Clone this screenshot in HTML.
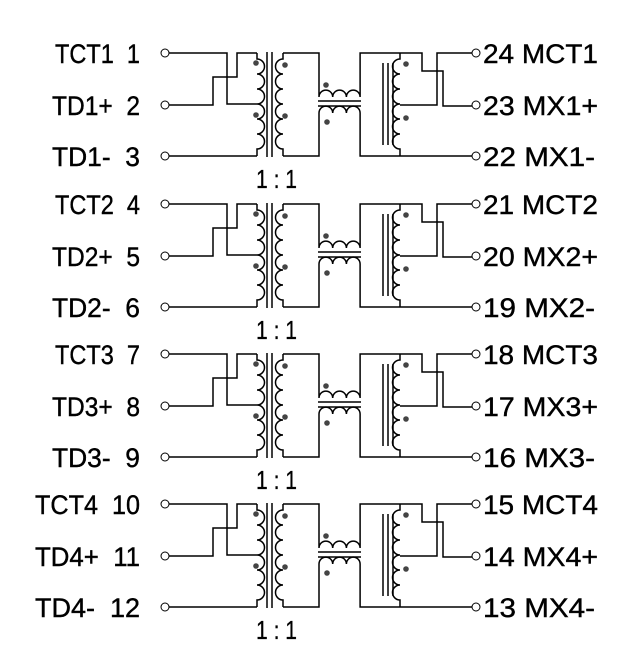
<!DOCTYPE html>
<html><head><meta charset="utf-8"><style>body{margin:0;background:#fff}svg{display:block}</style></head>
<body>
<svg width="641" height="646" viewBox="0 0 641 646" xmlns="http://www.w3.org/2000/svg">
<defs>
<g id="blk" fill="none" stroke="#000" stroke-width="1.5">
  <circle cx="165" cy="53" r="4" stroke-width="1"/>
  <circle cx="165" cy="105" r="4" stroke-width="1"/>
  <circle cx="165" cy="156" r="4" stroke-width="1"/>
  <circle cx="476" cy="53" r="4" stroke-width="1"/>
  <circle cx="476" cy="105" r="4" stroke-width="1"/>
  <circle cx="476" cy="156" r="4" stroke-width="1"/>
  <path d="M169 53H227V104H257"/>
  <path d="M169 105H213V77H237V53H257"/>
  <path d="M169 156H257"/>
  <path d="M257 53V59a7.5 7.5 0 0 1 0 15a7.5 7.5 0 0 1 0 15a7.5 7.5 0 0 1 0 15a7.5 7.5 0 0 1 0 15a7.5 7.5 0 0 1 0 15a7.5 7.5 0 0 1 0 15V156"/>
  <path d="M267 52V157M272 52V157"/>
  <path d="M283 53V59a7.5 7.5 0 0 0 0 15a7.5 7.5 0 0 0 0 15a7.5 7.5 0 0 0 0 15a7.5 7.5 0 0 0 0 15a7.5 7.5 0 0 0 0 15a7.5 7.5 0 0 0 0 15V156"/>
  <path d="M283 53H319V97a6.8 6.8 0 0 1 13.7 0a6.8 6.8 0 0 1 13.7 0a6.8 6.8 0 0 1 13.7 0V53H400"/>
  <path d="M318 101H361M318 106H361"/>
  <path d="M283 156H319V113a6.8 6.8 0 0 1 13.7 0a6.8 6.8 0 0 1 13.7 0a6.8 6.8 0 0 1 13.7 0V156H400"/>
  <path d="M383 63V145M388 63V145M393 63V145"/>
  <path d="M400 53V59a7.5 7.5 0 0 0 0 15a7.5 7.5 0 0 0 0 15a7.5 7.5 0 0 0 0 15a7.5 7.5 0 0 0 0 15a7.5 7.5 0 0 0 0 15a7.5 7.5 0 0 0 0 15V156"/>
  <path d="M400 53H422V71H443V106H472"/>
  <path d="M400 105H437V53H472"/>
  <path d="M400 156H472"/>
  <g fill="#444" stroke="none">
    <circle cx="256" cy="63" r="2.8"/><circle cx="256" cy="115" r="2.8"/>
    <circle cx="285" cy="65" r="2.8"/><circle cx="285" cy="116" r="2.8"/>
    <circle cx="326" cy="85" r="2.8"/><circle cx="327" cy="122" r="2.8"/>
    <circle cx="406" cy="64" r="2.8"/><circle cx="406" cy="118" r="2.8"/>
  </g>
  <text x="256" y="188" textLength="41" lengthAdjust="spacingAndGlyphs" font-family="Liberation Sans, sans-serif" font-size="26" fill="#000" stroke="#000" stroke-width="0.3">1&#160;:&#160;1</text>
</g>
</defs>
<use href="#blk"/>
<use href="#blk" y="151"/>
<use href="#blk" y="301"/>
<use href="#blk" y="451"/>
<g font-family="Liberation Sans, sans-serif" font-size="27" fill="#000" stroke="#000" stroke-width="0.4">
<text x="55" y="63" textLength="85" lengthAdjust="spacingAndGlyphs">TCT1&#160;&#160;1</text>
<text x="52" y="115" textLength="88" lengthAdjust="spacingAndGlyphs">TD1+&#160;&#160;2</text>
<text x="52" y="166" textLength="88" lengthAdjust="spacingAndGlyphs">TD1-&#160;&#160;3</text>
<text x="55" y="214" textLength="85" lengthAdjust="spacingAndGlyphs">TCT2&#160;&#160;4</text>
<text x="52" y="266" textLength="88" lengthAdjust="spacingAndGlyphs">TD2+&#160;&#160;5</text>
<text x="52" y="317" textLength="88" lengthAdjust="spacingAndGlyphs">TD2-&#160;&#160;6</text>
<text x="55" y="364" textLength="85" lengthAdjust="spacingAndGlyphs">TCT3&#160;&#160;7</text>
<text x="52" y="416" textLength="88" lengthAdjust="spacingAndGlyphs">TD3+&#160;&#160;8</text>
<text x="52" y="467" textLength="88" lengthAdjust="spacingAndGlyphs">TD3-&#160;&#160;9</text>
<text x="35" y="514" textLength="105" lengthAdjust="spacingAndGlyphs">TCT4&#160;&#160;10</text>
<text x="35" y="566" textLength="105" lengthAdjust="spacingAndGlyphs">TD4+&#160;&#160;11</text>
<text x="35" y="617" textLength="105" lengthAdjust="spacingAndGlyphs">TD4-&#160;&#160;12</text>
<text x="483" y="63" textLength="115" lengthAdjust="spacingAndGlyphs">24 MCT1</text>
<text x="483" y="115" textLength="115" lengthAdjust="spacingAndGlyphs">23 MX1+</text>
<text x="483" y="166" textLength="112" lengthAdjust="spacingAndGlyphs">22 MX1-</text>
<text x="483" y="214" textLength="115" lengthAdjust="spacingAndGlyphs">21 MCT2</text>
<text x="483" y="266" textLength="115" lengthAdjust="spacingAndGlyphs">20 MX2+</text>
<text x="483" y="317" textLength="112" lengthAdjust="spacingAndGlyphs">19 MX2-</text>
<text x="483" y="364" textLength="115" lengthAdjust="spacingAndGlyphs">18 MCT3</text>
<text x="483" y="416" textLength="115" lengthAdjust="spacingAndGlyphs">17 MX3+</text>
<text x="483" y="467" textLength="112" lengthAdjust="spacingAndGlyphs">16 MX3-</text>
<text x="483" y="514" textLength="115" lengthAdjust="spacingAndGlyphs">15 MCT4</text>
<text x="483" y="566" textLength="115" lengthAdjust="spacingAndGlyphs">14 MX4+</text>
<text x="483" y="617" textLength="112" lengthAdjust="spacingAndGlyphs">13 MX4-</text>
</g>
</svg>
</body></html>
